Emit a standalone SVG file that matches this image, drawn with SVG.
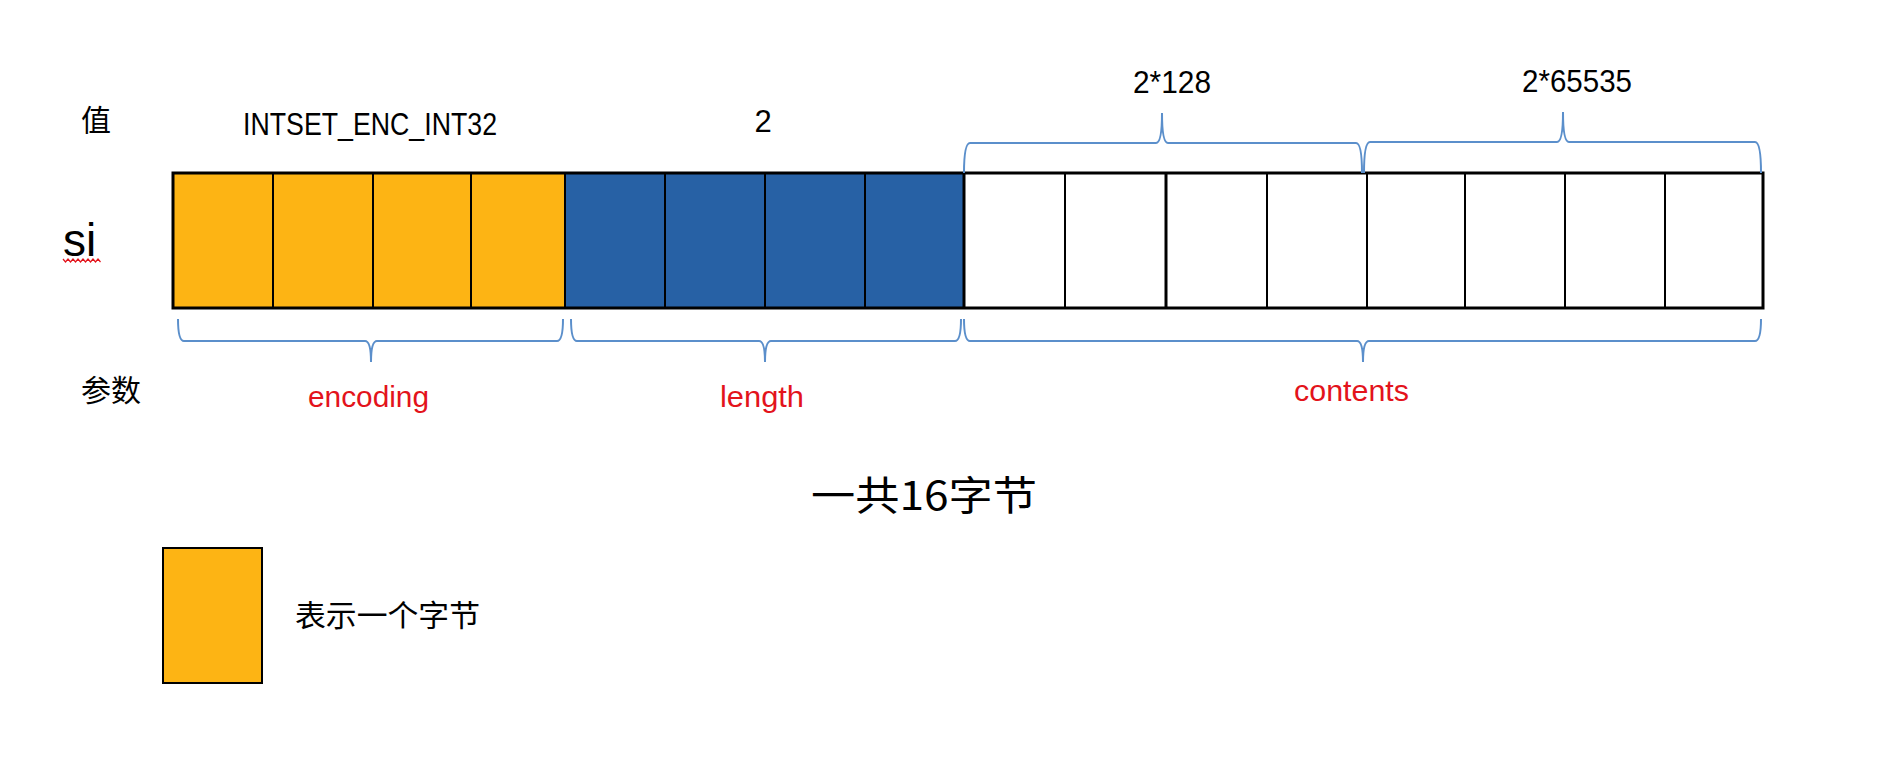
<svg xmlns="http://www.w3.org/2000/svg" width="1892" height="764" viewBox="0 0 1892 764">
<style>
.cn{font-family:"Noto Sans CJK SC","Noto Sans",sans-serif;fill:#000}
.lt{font-family:"Liberation Sans",Arial,sans-serif;fill:#000}
.red{font-family:"Liberation Sans",Arial,sans-serif;fill:#E3131B;font-size:29px}
.y{fill:#FDB414;stroke:#000;stroke-width:2}
.b{fill:#2761A5;stroke:#000;stroke-width:2}
.w{fill:#fff;stroke:#000;stroke-width:2}
.br{fill:none;stroke:#5B8FCB;stroke-width:2}
</style>
<rect width="1892" height="764" fill="#fff"/>
<g id="labels">
<text class="cn" x="96" y="131" font-size="30" text-anchor="middle">值</text>
<text class="lt" x="63" y="256" font-size="46">si</text>
<path d="M63,259 l2.5,3 l2.5,-3 l2.5,3 l2.5,-3 l2.5,3 l2.5,-3 l2.5,3 l2.5,-3 l2.5,3 l2.5,-3 l2.5,3 l2.5,-3 l2.5,3 l2.5,-3 l2.5,3" fill="none" stroke="#E3131B" stroke-width="1.2"/>
<text class="cn" x="111" y="401" font-size="30" text-anchor="middle">参数</text>
<text class="lt" x="243" y="135" font-size="32" textLength="254" lengthAdjust="spacingAndGlyphs">INTSET_ENC_INT32</text>
<text class="lt" x="763" y="132" font-size="31" text-anchor="middle">2</text>
<text class="lt" x="1133" y="93" font-size="32" textLength="78" lengthAdjust="spacingAndGlyphs">2*128</text>
<text class="lt" x="1522" y="92" font-size="32" textLength="110" lengthAdjust="spacingAndGlyphs">2*65535</text>
<text class="red" x="308" y="407" textLength="121" lengthAdjust="spacingAndGlyphs">encoding</text>
<text class="red" x="720" y="407" textLength="84" lengthAdjust="spacingAndGlyphs">length</text>
<text class="red" x="1294" y="401" textLength="115" lengthAdjust="spacingAndGlyphs">contents</text>
<text class="cn" x="811" y="510" font-size="40" textLength="226" lengthAdjust="spacingAndGlyphs">一共16字节</text>
</g>
<g id="encoding">
<rect class="y" x="173" y="173" width="100" height="135"/>
<rect class="y" x="273" y="173" width="100" height="135"/>
<rect class="y" x="373" y="173" width="98" height="135"/>
<rect class="y" x="471" y="173" width="94" height="135"/>
</g>
<g id="length">
<rect class="b" x="565" y="173" width="100" height="135"/>
<rect class="b" x="665" y="173" width="100" height="135"/>
<rect class="b" x="765" y="173" width="100" height="135"/>
<rect class="b" x="865" y="173" width="99" height="135"/>
</g>
<g id="contents">
<rect class="w" x="964" y="173" width="101" height="135"/>
<rect class="w" x="1065" y="173" width="101" height="135"/>
<rect class="w" x="1166" y="173" width="101" height="135"/>
<rect class="w" x="1267" y="173" width="100" height="135"/>
<rect class="w" x="1367" y="173" width="98" height="135"/>
<rect class="w" x="1465" y="173" width="100" height="135"/>
<rect class="w" x="1565" y="173" width="100" height="135"/>
<rect class="w" x="1665" y="173" width="98" height="135"/>
<line x1="964" y1="172" x2="964" y2="309" stroke="#000" stroke-width="3"/>
<line x1="1166" y1="172" x2="1166" y2="309" stroke="#000" stroke-width="3"/>
</g>
<rect x="173" y="173" width="1590" height="135" fill="none" stroke="#000" stroke-width="3"/>
<g id="connectors">
<path class="br" d="M964,173 Q964,143 970,143 L1156,143 Q1162,143 1162,113 Q1162,143 1168,143 L1356,143 Q1362,143 1362,173"/>
<path class="br" d="M1364,173 Q1364,142 1370,142 L1557,142 Q1563,142 1563,112 Q1563,142 1569,142 L1755,142 Q1761,142 1761,173"/>
<path class="br" d="M178,319 Q178,341 184,341 L365,341 Q371,341 371,362 Q371,341 377,341 L557,341 Q563,341 563,319"/>
<path class="br" d="M571,319 Q571,341 577,341 L759,341 Q765,341 765,362 Q765,341 771,341 L955,341 Q961,341 961,319"/>
<path class="br" d="M964,319 Q964,341 970,341 L1357,341 Q1363,341 1363,362 Q1363,341 1369,341 L1755,341 Q1761,341 1761,319"/>
</g>
<g id="legend">
<rect class="y" x="163" y="548" width="99" height="135"/>
<text class="cn" x="295" y="626" font-size="30" textLength="185" lengthAdjust="spacingAndGlyphs">表示一个字节</text>
</g>
</svg>
